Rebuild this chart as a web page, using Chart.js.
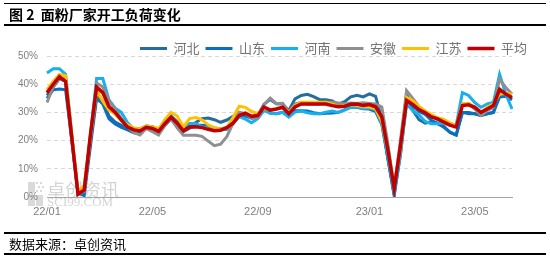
<!DOCTYPE html>
<html>
<head>
<meta charset="utf-8">
<script src="https://cdn.jsdelivr.net/npm/chart.js@4.4.0/dist/chart.umd.min.js"></script>
<style>
    html, body { margin: 0; padding: 0; background: #fff; }
</style>
</head>
<body>
<canvas id="diagram" width="550" height="259"></canvas>
<script>
const firstWeek = "2022-01-06";
const weekCount = 76;
const tickMonths = ["22/01", "22/05", "22/09", "23/01", "23/05"];

const hebei = [36, 39, 42, 41, 21, 1, 2, 20, 36, 34,
    28.7, 26.6, 25.4, 24.9, 24.4, 24.2, 25.2, 24.9, 23.7, 26.5,
    28.8, 26.7, 24.3, 25, 26.4, 27.8, 28, 27.4, 26.5, 27.3,
    28.6, 29.6, 29.3, 28.5, 28.9, 32.9, 34.6, 33.1, 33, 30.6,
    34.8, 36, 36.4, 35.6, 34.5, 34.5, 34.1, 32.9, 33.8, 35.5,
    36.1, 35.5, 36.6, 35.7, 27.5, 13.5, 0.8, 18, 36.5, 30.7,
    27.4, 26.2, 26.7, 26, 25.1, 22.9, 21.9, 30, 29.5, 29.5,
    28.9, 29.5, 30, 37, 36, 34.7];
const shandong = [35, 38, 38.3, 38, 20, 1.5, 0.5, 18, 35, 33,
    27.7, 25.9, 24.7, 23.8, 22.8, 22.5, 24.4, 23.7, 22.6, 25.4,
    27.7, 25.2, 23.2, 24.4, 25.4, 25.4, 25.2, 24.5, 24.2, 24.5,
    26.1, 28.6, 28.7, 27.9, 28.2, 31.2, 29.8, 29.5, 30, 28.9,
    30.6, 30.6, 30.5, 29.9, 29.5, 29.7, 29.8, 30, 30.9, 31.9,
    31.8, 31.3, 31.2, 30.3, 25.8, 13.4, 0.5, 15, 34.2, 32.2,
    30.3, 29.3, 27.2, 26.1, 24.7, 23, 22, 30, 30, 29.5,
    28.9, 29.5, 30, 35.5, 35.7, 34.5];
const henan = [44, 45.5, 45.5, 43.5, 22, 1, 2, 22, 42, 42,
    34.4, 31.5, 30, 26.3, 24.1, 23.6, 25.1, 24.9, 23.7, 26.5,
    28.8, 26.3, 25, 26.1, 26.1, 24.8, 24.6, 23.9, 23.9, 23.9,
    26, 28.5, 27.6, 26.3, 27.8, 30.7, 29.7, 29.5, 30, 28.3,
    30.1, 30.5, 29.9, 29.5, 29.5, 30.1, 30.5, 30, 30.9, 31.9,
    32, 31.4, 31.6, 30.9, 26.2, 14.4, 1.4, 15, 33, 30.6,
    29.1, 26.8, 26, 26, 26.2, 26.1, 25.5, 37, 36, 33.5,
    31.8, 33, 33.5, 43.5, 36.5, 31.2];
const anhui = [33.5, 39, 42, 41.8, 21, 1, 2, 21, 40.5, 39,
    34.3, 31, 27.8, 24.9, 22.9, 22, 24.3, 23.2, 22, 25.4,
    27.7, 24.5, 21.9, 21.9, 21.9, 21.5, 19.8, 18.2, 18.7, 21.4,
    26.1, 30.1, 29.6, 28, 28.2, 32.8, 35.1, 33.1, 33.2, 30,
    33, 33.6, 33, 33, 33, 33.6, 33.6, 33.3, 33, 33.3,
    33.2, 33.4, 33.2, 33, 31.9, 18.6, 3, 20, 37.7, 35,
    32, 30.3, 28.8, 27.4, 26.1, 25.4, 25.4, 33, 33, 31.2,
    28.9, 30.6, 31.8, 41.8, 38.8, 36.5];
const jiangsu = [38, 41, 43.5, 43, 22, 2, 4, 21, 37.7, 34,
    30.8, 29.4, 27.1, 25.6, 24.5, 24.2, 25.2, 24.9, 24.2, 27.4,
    30, 28.7, 24.8, 27.8, 28.2, 27.4, 25.6, 24.5, 24.2, 24.6,
    28.2, 32.2, 31.8, 30.3, 29.6, 31.4, 31, 31.2, 31.8, 30,
    32.4, 33.6, 33.6, 33.6, 33.6, 33.6, 32.9, 32.2, 32.5, 32.7,
    32.4, 32, 31.9, 31.3, 26.8, 16.2, 3.7, 17, 35.3, 34.1,
    32.1, 30.5, 29.2, 28.1, 27.5, 26.3, 25.4, 33, 33.2, 31.8,
    30, 31.8, 33, 36.5, 36.7, 36.5];
const average = [37, 40, 42.7, 41, 21, 1, 2.5, 22, 39, 37,
    32, 30, 27.3, 24.8, 23.8, 23.4, 24.7, 24.3, 23.3, 26,
    28.3, 26.2, 23.5, 24.8, 24.9, 24.6, 24, 23.5, 23.7, 24.6,
    26.2, 28.9, 29.7, 28.6, 28.9, 31.9, 30.8, 31.2, 31.8, 29.5,
    31.9, 33, 33, 33, 33, 33, 32.4, 32, 32.2, 32.9,
    33, 32.5, 32.8, 32, 28.4, 16.4, 3, 18, 34.2, 32.8,
    31, 29.9, 28.4, 27.7, 26.6, 25.5, 24.8, 32.4, 32.7, 31.8,
    30, 31.2, 32.4, 38.2, 36.5, 35.3];

// weekly dates, one per point
const weeks = [];
const start = new Date(firstWeek + "T00:00:00Z");
for (let i = 0; i < weekCount; i++) {
    weeks.push(new Date(start.getTime() + i * 7 * 86400000).toISOString().slice(0, 10));
}

function monthLabel(iso) {
    return iso.slice(2, 4) + "/" + iso.slice(5, 7);
}

const cjk = "'Noto Sans CJK SC', sans-serif";
const latin = "'Liberation Sans', Arial, sans-serif";

// title, footer and watermark
const frame = {
    id: "frame",
    beforeDraw(chart) {
        const c = chart.ctx;
        c.save();
        c.fillStyle = "#fff";
        c.fillRect(0, 0, chart.width, chart.height);

        c.strokeStyle = "#000";
        c.lineWidth = 1;
        c.beginPath(); c.moveTo(4, 3.5); c.lineTo(546, 3.5); c.stroke();
        c.lineWidth = 2;
        c.beginPath(); c.moveTo(4, 25); c.lineTo(546, 25); c.stroke();
        c.beginPath(); c.moveTo(4, 233); c.lineTo(546, 233); c.stroke();
        c.beginPath(); c.moveTo(4, 254); c.lineTo(546, 254); c.stroke();

        c.fillStyle = "#000";
        c.textBaseline = "middle";
        c.font = "bold 14px " + cjk;
        c.fillText("图 2  面粉厂家开工负荷变化", 9, 15);
        c.font = "13px " + cjk;
        c.fillText("数据来源：卓创资讯", 9, 244);

        // watermark
        c.fillStyle = "#DADADA";
        c.fillRect(28, 182, 7, 11);
        c.fillRect(28, 195, 7, 11);
        c.fillRect(36, 195, 7, 11);
        for (let r = 0; r < 3; r++) {
            for (let k = 0; k < 2; k++) {
                c.fillRect(36 + k * 4 + (r % 2) * 2, 182 + r * 4, 2, 2);
            }
        }
        c.fillStyle = "#D4D4D4";
        c.font = "18px " + cjk;
        c.fillText("卓创资讯", 47, 190);
        c.font = "13px 'Liberation Serif', serif";
        c.fillText("SCI99.COM", 47, 203);
        c.restore();
    }
};

// keep the legend row close to the plot
const legendHeight = {
    id: "legendHeight",
    beforeInit(chart) {
        if (!chart.legend) return;
        const fit = chart.legend.fit;
        chart.legend.fit = function () {
            fit.call(this);
            this.height = 20;
        };
    }
};

function series(label, data, color, width, order) {
    return {
        label: label,
        data: data,
        borderColor: color,
        backgroundColor: color,
        borderWidth: width,
        pointRadius: 0,
        tension: 0,
        order: order,
    };
}

const ctx = document.getElementById("diagram");

new Chart(ctx, {
    type: "line",
    data: {
        labels: weeks,
        datasets: [
            series("河北", hebei, "#236E9E", 3, 6),
            series("山东", shandong, "#0870C0", 3, 5),
            series("河南", henan, "#16B0EE", 3, 4),
            series("安徽", anhui, "#8F8F8F", 3, 3),
            series("江苏", jiangsu, "#FFC000", 3, 2),
            series("平均", average, "#C00000", 3.5, 1),
        ],
    },
    options: {
        responsive: false,
        animation: false,
        devicePixelRatio: 1,
        layout: {
            padding: { top: 36, right: 17, bottom: 32, left: 0 },
        },
        plugins: {
            legend: {
                position: "top",
                align: "end",
                reverse: true,
                labels: {
                    usePointStyle: true,
                    pointStyle: "line",
                    pointStyleWidth: 27,
                    padding: 6,
                    color: "#737373",
                    font: { family: cjk, size: 13 },
                },
            },
            tooltip: { enabled: false },
        },
        scales: {
            x: {
                grid: { display: false, drawTicks: false },
                border: { color: "#A6A6A6", width: 1 },
                ticks: {
                    autoSkip: false,
                    maxRotation: 0,
                    padding: 8,
                    color: "#7F7F7F",
                    font: { family: latin, size: 11 },
                    callback(value, index) {
                        const cur = monthLabel(weeks[index]);
                        const prev = index > 0 ? monthLabel(weeks[index - 1]) : null;
                        return cur !== prev && tickMonths.includes(cur) ? cur : "";
                    },
                },
                afterFit(scale) {
                    scale.height = 30;
                },
            },
            y: {
                min: 0,
                max: 50,
                grid: { color: "#D9D9D9", drawTicks: false },
                border: { display: false, dash: [4, 3] },
                ticks: {
                    stepSize: 10,
                    padding: 9,
                    color: "#7F7F7F",
                    font: { family: latin, size: 10 },
                    callback: (v) => v + "%",
                },
                afterFit(scale) {
                    scale.width = 47;
                },
            },
            y1: {
                position: "right",
                grid: { display: false, drawTicks: false },
                border: { display: false },
                ticks: { display: false },
                afterFit(scale) {
                    scale.width = 21;
                },
            },
        },
    },
    plugins: [frame, legendHeight],
});
</script>
</body>
</html>
